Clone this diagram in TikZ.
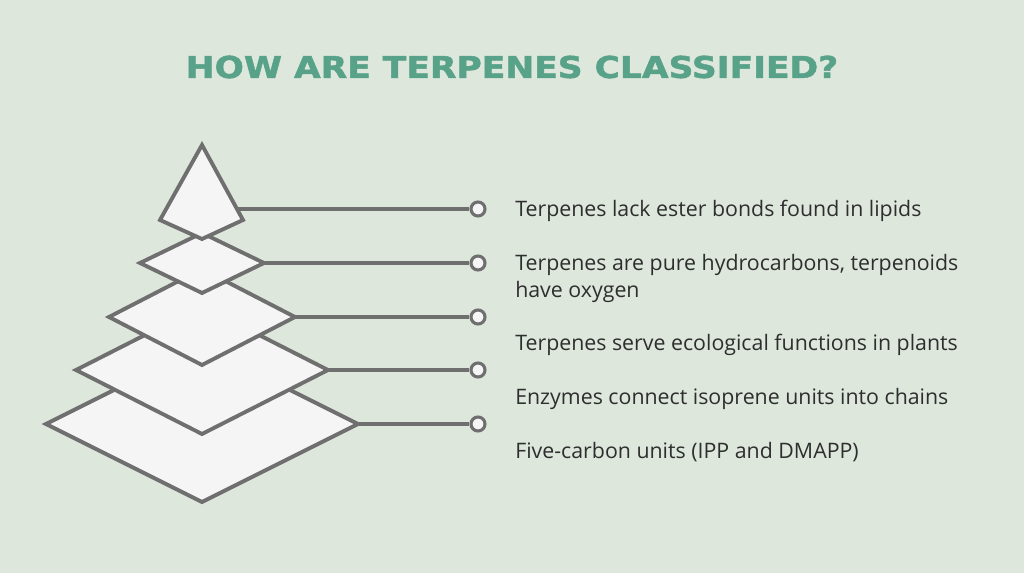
\documentclass[tikz,border=0pt]{standalone}
\usepackage{fontspec}
\setmainfont{Open Sans}
\newfontfamily\headfont[FakeStretch=1.15,FakeBold=1.6]{DejaVu Sans}
\usetikzlibrary{positioning}
\definecolor{sage}{HTML}{DDE7DC}
\definecolor{jade}{HTML}{59A28A}
\definecolor{slate}{HTML}{6F6F6F}
\definecolor{paper}{HTML}{F5F5F5}
\definecolor{ink}{HTML}{2E2E2E}
\tikzset{
  layer/.style={draw=slate,fill=paper,line width=2.9pt,line join=miter},
  link/.style={draw=slate,line width=2.5pt},
  dot/.style={circle,draw=slate,fill=paper,line width=2.3pt,
              minimum size=10.5pt,inner sep=0pt},
  fact/.style={anchor=base west,inner sep=0pt,text=ink,align=left,
               font=\fontsize{16pt}{20.25pt}\selectfont},
}

\begin{document}
\begin{tikzpicture}[x=0.75pt,y=-0.75pt]
  \fill[sage] (0,0) rectangle (1024,573);
  \useasboundingbox (0,0) rectangle (1024,573);
  \node[text=jade,font=\headfont\fontsize{22.5pt}{26pt}\selectfont\bfseries]
    (title) at (512,67) {HOW ARE TERPENES CLASSIFIED?};

  % pyramid, widest layer first
  \foreach \n/\w/\h/\y in {5/156/78/424, 4/126/64/370, 3/93/48/317, 2/62/30/263}{
    \draw[layer] (202-\w,\y) -- (202,\y-\h) -- (202+\w,\y) -- (202,\y+\h) -- cycle;
    \coordinate (corner\n) at (202+\w,\y);
  }
  \draw[layer] (202,145) -- (243,220) -- (202,239) -- (160,220) -- cycle;
  \coordinate (corner1) at (237,209);

  \foreach \n/\y in {1/209, 2/263, 3/317, 4/370, 5/424}{
    \node[dot] (dot\n) at (478,\y) {};
    \draw[link] (corner\n) -- (dot\n);
  }

  \node[fact] (fact1) at (515,217) {Terpenes lack ester bonds found in lipids};
  \node[fact] (fact2) at (515,298) {Terpenes are pure hydrocarbons, terpenoids\\have oxygen};
  \node[fact] (fact3) at (515,351) {Terpenes serve ecological functions in plants};
  \node[fact] (fact4) at (515,404) {Enzymes connect isoprene units into chains};
  \node[fact] (fact5) at (515,458) {Five-carbon units (IPP and DMAPP)};
\end{tikzpicture}
\end{document}
